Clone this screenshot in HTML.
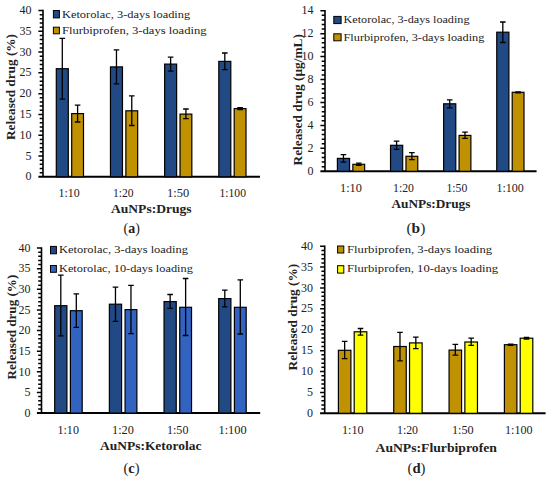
<!DOCTYPE html><html><head><meta charset="utf-8"><title>Released drug charts</title><style>html,body{margin:0;padding:0;background:#fff;overflow:hidden;}svg{display:block;}</style></head><body>
<svg width="550" height="477" viewBox="0 0 550 477" font-family='"Liberation Serif", serif'>
<rect width="550" height="477" fill="#fff"/>
<path d="M43.00 9.80V176.80" stroke="#000" stroke-width="1.6" fill="none"/>
<path d="M38.40 176.80H260.00" stroke="#000" stroke-width="2" fill="none"/>
<path d="M39.70 172.64H43.00M39.70 168.49H43.00M39.70 164.33H43.00M39.70 160.17H43.00M38.40 156.01H43.00M39.70 151.86H43.00M39.70 147.70H43.00M39.70 143.54H43.00M39.70 139.38H43.00M38.40 135.23H43.00M39.70 131.07H43.00M39.70 126.91H43.00M39.70 122.75H43.00M39.70 118.59H43.00M38.40 114.44H43.00M39.70 110.28H43.00M39.70 106.12H43.00M39.70 101.97H43.00M39.70 97.81H43.00M38.40 93.65H43.00M39.70 89.49H43.00M39.70 85.34H43.00M39.70 81.18H43.00M39.70 77.02H43.00M38.40 72.86H43.00M39.70 68.71H43.00M39.70 64.55H43.00M39.70 60.39H43.00M39.70 56.23H43.00M38.40 52.08H43.00M39.70 47.92H43.00M39.70 43.76H43.00M39.70 39.60H43.00M39.70 35.44H43.00M38.40 31.29H43.00M39.70 27.13H43.00M39.70 22.97H43.00M39.70 18.81H43.00M39.70 14.66H43.00M38.40 10.50H43.00" stroke="#000" stroke-width="1.5" fill="none"/>
<rect x="56.30" y="68.70" width="12.00" height="108.10" fill="#214984" stroke="#000" stroke-width="1.2"/>
<rect x="71.70" y="113.60" width="11.80" height="63.20" fill="#C09100" stroke="#000" stroke-width="1.2"/>
<rect x="110.47" y="66.90" width="12.00" height="109.90" fill="#214984" stroke="#000" stroke-width="1.2"/>
<rect x="125.87" y="110.80" width="11.80" height="66.00" fill="#C09100" stroke="#000" stroke-width="1.2"/>
<rect x="164.63" y="64.10" width="12.00" height="112.70" fill="#214984" stroke="#000" stroke-width="1.2"/>
<rect x="180.03" y="114.10" width="11.80" height="62.70" fill="#C09100" stroke="#000" stroke-width="1.2"/>
<rect x="218.80" y="61.40" width="12.00" height="115.40" fill="#214984" stroke="#000" stroke-width="1.2"/>
<rect x="234.20" y="108.60" width="11.80" height="68.20" fill="#C09100" stroke="#000" stroke-width="1.2"/>
<path d="M62.30 38.30V99.10M59.50 38.30H65.10M59.50 99.10H65.10" stroke="#000" stroke-width="1.3" fill="none"/>
<path d="M77.60 105.20V122.00M74.80 105.20H80.40M74.80 122.00H80.40" stroke="#000" stroke-width="1.3" fill="none"/>
<path d="M116.47 49.90V83.90M113.67 49.90H119.27M113.67 83.90H119.27" stroke="#000" stroke-width="1.3" fill="none"/>
<path d="M131.77 95.90V125.50M128.97 95.90H134.57M128.97 125.50H134.57" stroke="#000" stroke-width="1.3" fill="none"/>
<path d="M170.63 57.20V71.10M167.83 57.20H173.43M167.83 71.10H173.43" stroke="#000" stroke-width="1.3" fill="none"/>
<path d="M185.93 109.00V118.60M183.13 109.00H188.73M183.13 118.60H188.73" stroke="#000" stroke-width="1.3" fill="none"/>
<path d="M224.80 53.00V69.70M222.00 53.00H227.60M222.00 69.70H227.60" stroke="#000" stroke-width="1.3" fill="none"/>
<path d="M240.10 107.70V109.50M237.30 107.70H242.90M237.30 109.50H242.90" stroke="#000" stroke-width="1.3" fill="none"/>
<rect x="53.40" y="10.50" width="6.00" height="7.40" fill="#214984" stroke="#000" stroke-width="1.0"/>
<rect x="53.40" y="27.20" width="6.00" height="6.60" fill="#C09100" stroke="#000" stroke-width="1.0"/>
<path d="M325.00 10.00V171.30" stroke="#000" stroke-width="1.6" fill="none"/>
<path d="M320.40 171.30H536.60" stroke="#000" stroke-width="2" fill="none"/>
<path d="M321.70 166.71H325.00M321.70 162.12H325.00M321.70 157.53H325.00M321.70 152.95H325.00M320.40 148.36H325.00M321.70 143.77H325.00M321.70 139.18H325.00M321.70 134.59H325.00M321.70 130.00H325.00M320.40 125.41H325.00M321.70 120.83H325.00M321.70 116.24H325.00M321.70 111.65H325.00M321.70 107.06H325.00M320.40 102.47H325.00M321.70 97.88H325.00M321.70 93.29H325.00M321.70 88.71H325.00M321.70 84.12H325.00M320.40 79.53H325.00M321.70 74.94H325.00M321.70 70.35H325.00M321.70 65.76H325.00M321.70 61.17H325.00M320.40 56.59H325.00M321.70 52.00H325.00M321.70 47.41H325.00M321.70 42.82H325.00M321.70 38.23H325.00M320.40 33.64H325.00M321.70 29.05H325.00M321.70 24.47H325.00M321.70 19.88H325.00M321.70 15.29H325.00M320.40 10.70H325.00" stroke="#000" stroke-width="1.5" fill="none"/>
<rect x="337.40" y="158.40" width="12.15" height="12.90" fill="#214984" stroke="#000" stroke-width="1.2"/>
<rect x="352.85" y="164.30" width="11.80" height="7.00" fill="#C09100" stroke="#000" stroke-width="1.2"/>
<rect x="390.52" y="145.30" width="12.15" height="26.00" fill="#214984" stroke="#000" stroke-width="1.2"/>
<rect x="405.97" y="156.30" width="11.80" height="15.00" fill="#C09100" stroke="#000" stroke-width="1.2"/>
<rect x="443.63" y="103.80" width="12.15" height="67.50" fill="#214984" stroke="#000" stroke-width="1.2"/>
<rect x="459.08" y="135.40" width="11.80" height="35.90" fill="#C09100" stroke="#000" stroke-width="1.2"/>
<rect x="496.75" y="32.20" width="12.15" height="139.10" fill="#214984" stroke="#000" stroke-width="1.2"/>
<rect x="512.20" y="92.30" width="11.80" height="79.00" fill="#C09100" stroke="#000" stroke-width="1.2"/>
<path d="M343.47 154.60V162.10M340.67 154.60H346.27M340.67 162.10H346.27" stroke="#000" stroke-width="1.3" fill="none"/>
<path d="M358.75 163.20V165.30M355.95 163.20H361.55M355.95 165.30H361.55" stroke="#000" stroke-width="1.3" fill="none"/>
<path d="M396.59 141.20V149.30M393.79 141.20H399.39M393.79 149.30H399.39" stroke="#000" stroke-width="1.3" fill="none"/>
<path d="M411.87 152.70V159.70M409.07 152.70H414.67M409.07 159.70H414.67" stroke="#000" stroke-width="1.3" fill="none"/>
<path d="M449.71 99.80V107.90M446.91 99.80H452.51M446.91 107.90H452.51" stroke="#000" stroke-width="1.3" fill="none"/>
<path d="M464.98 132.10V138.40M462.18 132.10H467.78M462.18 138.40H467.78" stroke="#000" stroke-width="1.3" fill="none"/>
<path d="M502.82 22.00V42.50M500.02 22.00H505.62M500.02 42.50H505.62" stroke="#000" stroke-width="1.3" fill="none"/>
<path d="M518.10 91.80V92.80M515.30 91.80H520.90M515.30 92.80H520.90" stroke="#000" stroke-width="1.3" fill="none"/>
<rect x="333.80" y="16.40" width="7.30" height="7.20" fill="#214984" stroke="#000" stroke-width="1.0"/>
<rect x="333.80" y="33.80" width="7.30" height="7.00" fill="#C09100" stroke="#000" stroke-width="1.0"/>
<path d="M41.50 247.30V413.10" stroke="#000" stroke-width="1.6" fill="none"/>
<path d="M36.90 413.10H260.20" stroke="#000" stroke-width="2" fill="none"/>
<path d="M38.20 408.97H41.50M38.20 404.85H41.50M38.20 400.72H41.50M38.20 396.59H41.50M36.90 392.46H41.50M38.20 388.34H41.50M38.20 384.21H41.50M38.20 380.08H41.50M38.20 375.95H41.50M36.90 371.83H41.50M38.20 367.70H41.50M38.20 363.57H41.50M38.20 359.44H41.50M38.20 355.31H41.50M36.90 351.19H41.50M38.20 347.06H41.50M38.20 342.93H41.50M38.20 338.81H41.50M38.20 334.68H41.50M36.90 330.55H41.50M38.20 326.42H41.50M38.20 322.30H41.50M38.20 318.17H41.50M38.20 314.04H41.50M36.90 309.91H41.50M38.20 305.79H41.50M38.20 301.66H41.50M38.20 297.53H41.50M38.20 293.40H41.50M36.90 289.27H41.50M38.20 285.15H41.50M38.20 281.02H41.50M38.20 276.89H41.50M38.20 272.76H41.50M36.90 268.64H41.50M38.20 264.51H41.50M38.20 260.38H41.50M38.20 256.25H41.50M38.20 252.13H41.50M36.90 248.00H41.50" stroke="#000" stroke-width="1.5" fill="none"/>
<rect x="54.70" y="305.70" width="12.20" height="107.40" fill="#214984" stroke="#000" stroke-width="1.2"/>
<rect x="70.40" y="310.70" width="11.80" height="102.40" fill="#3363C0" stroke="#000" stroke-width="1.2"/>
<rect x="109.37" y="304.20" width="12.20" height="108.90" fill="#214984" stroke="#000" stroke-width="1.2"/>
<rect x="125.07" y="309.60" width="11.80" height="103.50" fill="#3363C0" stroke="#000" stroke-width="1.2"/>
<rect x="164.03" y="301.60" width="12.20" height="111.50" fill="#214984" stroke="#000" stroke-width="1.2"/>
<rect x="179.73" y="307.30" width="11.80" height="105.80" fill="#3363C0" stroke="#000" stroke-width="1.2"/>
<rect x="218.70" y="298.60" width="12.20" height="114.50" fill="#214984" stroke="#000" stroke-width="1.2"/>
<rect x="234.40" y="307.30" width="11.80" height="105.80" fill="#3363C0" stroke="#000" stroke-width="1.2"/>
<path d="M60.80 275.10V335.90M58.00 275.10H63.60M58.00 335.90H63.60" stroke="#000" stroke-width="1.3" fill="none"/>
<path d="M76.30 293.80V327.40M73.50 293.80H79.10M73.50 327.40H79.10" stroke="#000" stroke-width="1.3" fill="none"/>
<path d="M115.47 287.20V321.30M112.67 287.20H118.27M112.67 321.30H118.27" stroke="#000" stroke-width="1.3" fill="none"/>
<path d="M130.97 285.40V333.60M128.17 285.40H133.77M128.17 333.60H133.77" stroke="#000" stroke-width="1.3" fill="none"/>
<path d="M170.13 294.50V308.30M167.33 294.50H172.93M167.33 308.30H172.93" stroke="#000" stroke-width="1.3" fill="none"/>
<path d="M185.63 278.50V335.50M182.83 278.50H188.43M182.83 335.50H188.43" stroke="#000" stroke-width="1.3" fill="none"/>
<path d="M224.80 290.10V306.90M222.00 290.10H227.60M222.00 306.90H227.60" stroke="#000" stroke-width="1.3" fill="none"/>
<path d="M240.30 279.80V334.00M237.50 279.80H243.10M237.50 334.00H243.10" stroke="#000" stroke-width="1.3" fill="none"/>
<rect x="50.50" y="246.40" width="5.90" height="7.40" fill="#214984" stroke="#000" stroke-width="1.0"/>
<rect x="50.50" y="265.50" width="5.90" height="6.80" fill="#3363C0" stroke="#000" stroke-width="1.0"/>
<path d="M324.70 245.50V413.30" stroke="#000" stroke-width="1.6" fill="none"/>
<path d="M320.10 413.30H545.60" stroke="#000" stroke-width="2" fill="none"/>
<path d="M321.40 409.12H324.70M321.40 404.94H324.70M321.40 400.77H324.70M321.40 396.59H324.70M320.10 392.41H324.70M321.40 388.24H324.70M321.40 384.06H324.70M321.40 379.88H324.70M321.40 375.70H324.70M320.10 371.52H324.70M321.40 367.35H324.70M321.40 363.17H324.70M321.40 358.99H324.70M321.40 354.81H324.70M320.10 350.64H324.70M321.40 346.46H324.70M321.40 342.28H324.70M321.40 338.11H324.70M321.40 333.93H324.70M320.10 329.75H324.70M321.40 325.57H324.70M321.40 321.39H324.70M321.40 317.22H324.70M321.40 313.04H324.70M320.10 308.86H324.70M321.40 304.69H324.70M321.40 300.51H324.70M321.40 296.33H324.70M321.40 292.15H324.70M320.10 287.98H324.70M321.40 283.80H324.70M321.40 279.62H324.70M321.40 275.44H324.70M321.40 271.26H324.70M320.10 267.09H324.70M321.40 262.91H324.70M321.40 258.73H324.70M321.40 254.55H324.70M321.40 250.38H324.70M320.10 246.20H324.70" stroke="#000" stroke-width="1.5" fill="none"/>
<rect x="338.40" y="350.30" width="12.50" height="63.00" fill="#C09100" stroke="#000" stroke-width="1.2"/>
<rect x="354.20" y="331.80" width="12.60" height="81.50" fill="#FFFF00" stroke="#000" stroke-width="1.2"/>
<rect x="393.73" y="346.50" width="12.50" height="66.80" fill="#C09100" stroke="#000" stroke-width="1.2"/>
<rect x="409.53" y="342.90" width="12.60" height="70.40" fill="#FFFF00" stroke="#000" stroke-width="1.2"/>
<rect x="449.07" y="350.10" width="12.50" height="63.20" fill="#C09100" stroke="#000" stroke-width="1.2"/>
<rect x="464.87" y="342.00" width="12.60" height="71.30" fill="#FFFF00" stroke="#000" stroke-width="1.2"/>
<rect x="504.40" y="344.70" width="12.50" height="68.60" fill="#C09100" stroke="#000" stroke-width="1.2"/>
<rect x="520.20" y="338.20" width="12.60" height="75.10" fill="#FFFF00" stroke="#000" stroke-width="1.2"/>
<path d="M344.65 341.30V358.60M341.85 341.30H347.45M341.85 358.60H347.45" stroke="#000" stroke-width="1.3" fill="none"/>
<path d="M360.50 328.50V335.10M357.70 328.50H363.30M357.70 335.10H363.30" stroke="#000" stroke-width="1.3" fill="none"/>
<path d="M399.98 332.30V360.80M397.18 332.30H402.78M397.18 360.80H402.78" stroke="#000" stroke-width="1.3" fill="none"/>
<path d="M415.83 337.20V348.60M413.03 337.20H418.63M413.03 348.60H418.63" stroke="#000" stroke-width="1.3" fill="none"/>
<path d="M455.32 344.40V355.10M452.52 344.40H458.12M452.52 355.10H458.12" stroke="#000" stroke-width="1.3" fill="none"/>
<path d="M471.17 338.20V345.40M468.37 338.20H473.97M468.37 345.40H473.97" stroke="#000" stroke-width="1.3" fill="none"/>
<path d="M510.65 344.10V345.30M507.85 344.10H513.45M507.85 345.30H513.45" stroke="#000" stroke-width="1.3" fill="none"/>
<path d="M526.50 337.40V339.00M523.70 337.40H529.30M523.70 339.00H529.30" stroke="#000" stroke-width="1.3" fill="none"/>
<rect x="337.60" y="246.00" width="6.20" height="7.00" fill="#C09100" stroke="#000" stroke-width="1.0"/>
<rect x="337.60" y="265.70" width="6.20" height="7.40" fill="#FFFF00" stroke="#000" stroke-width="1.0"/>
<text x="31.60" y="180.30" font-size="12" text-anchor="end" fill="#222">0</text>
<text x="31.60" y="159.51" font-size="12" text-anchor="end" fill="#222">5</text>
<text x="31.60" y="138.73" font-size="12" text-anchor="end" fill="#222">10</text>
<text x="31.60" y="117.94" font-size="12" text-anchor="end" fill="#222">15</text>
<text x="31.60" y="97.15" font-size="12" text-anchor="end" fill="#222">20</text>
<text x="31.60" y="76.36" font-size="12" text-anchor="end" fill="#222">25</text>
<text x="31.60" y="55.58" font-size="12" text-anchor="end" fill="#222">30</text>
<text x="31.60" y="34.79" font-size="12" text-anchor="end" fill="#222">35</text>
<text x="31.60" y="14.00" font-size="12" text-anchor="end" fill="#222">40</text>
<text x="313.50" y="174.80" font-size="12" text-anchor="end" fill="#222">0</text>
<text x="313.50" y="151.86" font-size="12" text-anchor="end" fill="#222">2</text>
<text x="313.50" y="128.91" font-size="12" text-anchor="end" fill="#222">4</text>
<text x="313.50" y="105.97" font-size="12" text-anchor="end" fill="#222">6</text>
<text x="313.50" y="83.03" font-size="12" text-anchor="end" fill="#222">8</text>
<text x="313.50" y="60.09" font-size="12" text-anchor="end" fill="#222">10</text>
<text x="313.50" y="37.14" font-size="12" text-anchor="end" fill="#222">12</text>
<text x="313.50" y="14.20" font-size="12" text-anchor="end" fill="#222">14</text>
<text x="30.40" y="416.90" font-size="12" text-anchor="end" fill="#222">0</text>
<text x="30.40" y="396.26" font-size="12" text-anchor="end" fill="#222">5</text>
<text x="30.40" y="375.63" font-size="12" text-anchor="end" fill="#222">10</text>
<text x="30.40" y="354.99" font-size="12" text-anchor="end" fill="#222">15</text>
<text x="30.40" y="334.35" font-size="12" text-anchor="end" fill="#222">20</text>
<text x="30.40" y="313.71" font-size="12" text-anchor="end" fill="#222">25</text>
<text x="30.40" y="293.07" font-size="12" text-anchor="end" fill="#222">30</text>
<text x="30.40" y="272.44" font-size="12" text-anchor="end" fill="#222">35</text>
<text x="30.40" y="251.80" font-size="12" text-anchor="end" fill="#222">40</text>
<text x="313.00" y="416.90" font-size="12" text-anchor="end" fill="#222">0</text>
<text x="313.00" y="396.01" font-size="12" text-anchor="end" fill="#222">5</text>
<text x="313.00" y="375.12" font-size="12" text-anchor="end" fill="#222">10</text>
<text x="313.00" y="354.24" font-size="12" text-anchor="end" fill="#222">15</text>
<text x="313.00" y="333.35" font-size="12" text-anchor="end" fill="#222">20</text>
<text x="313.00" y="312.46" font-size="12" text-anchor="end" fill="#222">25</text>
<text x="313.00" y="291.58" font-size="12" text-anchor="end" fill="#222">30</text>
<text x="313.00" y="270.69" font-size="12" text-anchor="end" fill="#222">35</text>
<text x="313.00" y="249.80" font-size="12" text-anchor="end" fill="#222">40</text>
<text x="62.00" y="17.50" font-size="11.2" font-weight="normal" fill="#222" textLength="128.19" lengthAdjust="spacingAndGlyphs">Ketorolac, 3-days loading</text>
<text x="62.00" y="34.00" font-size="11.2" font-weight="normal" fill="#222" textLength="144.58" lengthAdjust="spacingAndGlyphs">Flurbiprofen, 3-days loading</text>
<text x="58.50" y="197.00" font-size="11.8" font-weight="normal" fill="#222" textLength="21.22" lengthAdjust="spacingAndGlyphs">1:10</text>
<text x="113.00" y="197.00" font-size="11.8" font-weight="normal" fill="#222" textLength="20.60" lengthAdjust="spacingAndGlyphs">1:20</text>
<text x="167.00" y="197.00" font-size="11.8" font-weight="normal" fill="#222" textLength="22.15" lengthAdjust="spacingAndGlyphs">1:50</text>
<text x="219.50" y="197.00" font-size="11.8" font-weight="normal" fill="#222" textLength="26.46" lengthAdjust="spacingAndGlyphs">1:100</text>
<text x="111.00" y="213.00" font-size="12.8" font-weight="bold" fill="#222" textLength="80.55" lengthAdjust="spacingAndGlyphs">AuNPs:Drugs</text>
<text x="123.50" y="233.00" font-size="14.5" fill="#222" textLength="16.31" lengthAdjust="spacingAndGlyphs">(<tspan font-weight="bold">a</tspan>)</text>
<text x="14.70" y="140.00" font-size="13" font-weight="bold" fill="#222" textLength="106.03" lengthAdjust="spacingAndGlyphs" transform="rotate(-90 14.70 140.00)">Released drug (%)</text>
<text x="343.50" y="23.00" font-size="10.7" font-weight="normal" fill="#222" textLength="126.00" lengthAdjust="spacingAndGlyphs">Ketorolac, 3-days loading</text>
<text x="343.50" y="40.50" font-size="10.7" font-weight="normal" fill="#222" textLength="140.89" lengthAdjust="spacingAndGlyphs">Flurbiprofen, 3-days loading</text>
<text x="340.00" y="192.00" font-size="11.8" font-weight="normal" fill="#222" textLength="21.88" lengthAdjust="spacingAndGlyphs">1:10</text>
<text x="393.00" y="192.00" font-size="11.8" font-weight="normal" fill="#222" textLength="20.96" lengthAdjust="spacingAndGlyphs">1:20</text>
<text x="446.50" y="192.00" font-size="11.8" font-weight="normal" fill="#222" textLength="20.79" lengthAdjust="spacingAndGlyphs">1:50</text>
<text x="496.50" y="192.00" font-size="11.8" font-weight="normal" fill="#222" textLength="27.31" lengthAdjust="spacingAndGlyphs">1:100</text>
<text x="391.50" y="208.00" font-size="12.8" font-weight="bold" fill="#222" textLength="78.89" lengthAdjust="spacingAndGlyphs">AuNPs:Drugs</text>
<text x="406.50" y="233.00" font-size="14.5" fill="#222" textLength="18.84" lengthAdjust="spacingAndGlyphs">(<tspan font-weight="bold">b</tspan>)</text>
<text x="301.50" y="165.50" font-size="13" font-weight="bold" fill="#222" textLength="131.40" lengthAdjust="spacingAndGlyphs" transform="rotate(-90 301.50 165.50)">Released drug (μg/mL)</text>
<text x="59.00" y="253.30" font-size="11.2" font-weight="normal" fill="#222" textLength="129.00" lengthAdjust="spacingAndGlyphs">Ketorolac, 3-days loading</text>
<text x="59.00" y="271.80" font-size="11.2" font-weight="normal" fill="#222" textLength="133.84" lengthAdjust="spacingAndGlyphs">Ketorolac, 10-days loading</text>
<text x="57.50" y="434.00" font-size="11.8" font-weight="normal" fill="#222" textLength="21.43" lengthAdjust="spacingAndGlyphs">1:10</text>
<text x="112.00" y="434.00" font-size="11.8" font-weight="normal" fill="#222" textLength="21.88" lengthAdjust="spacingAndGlyphs">1:20</text>
<text x="167.00" y="434.00" font-size="11.8" font-weight="normal" fill="#222" textLength="21.43" lengthAdjust="spacingAndGlyphs">1:50</text>
<text x="218.50" y="434.00" font-size="11.8" font-weight="normal" fill="#222" textLength="28.18" lengthAdjust="spacingAndGlyphs">1:100</text>
<text x="100.00" y="450.00" font-size="12.8" font-weight="bold" fill="#222" textLength="101.47" lengthAdjust="spacingAndGlyphs">AuNPs:Ketorolac</text>
<text x="123.50" y="473.00" font-size="14.5" fill="#222" textLength="16.12" lengthAdjust="spacingAndGlyphs">(<tspan font-weight="bold">c</tspan>)</text>
<text x="15.80" y="379.50" font-size="13" font-weight="bold" fill="#222" textLength="104.81" lengthAdjust="spacingAndGlyphs" transform="rotate(-90 15.80 379.50)">Released drug (%)</text>
<text x="347.00" y="252.60" font-size="11.2" font-weight="normal" fill="#222" textLength="145.17" lengthAdjust="spacingAndGlyphs">Flurbiprofen, 3-days loading</text>
<text x="347.00" y="272.30" font-size="11.2" font-weight="normal" fill="#222" textLength="151.12" lengthAdjust="spacingAndGlyphs">Flurbiprofen, 10-days loading</text>
<text x="342.00" y="434.00" font-size="11.8" font-weight="normal" fill="#222" textLength="21.67" lengthAdjust="spacingAndGlyphs">1:10</text>
<text x="397.00" y="434.00" font-size="11.8" font-weight="normal" fill="#222" textLength="21.04" lengthAdjust="spacingAndGlyphs">1:20</text>
<text x="452.00" y="434.00" font-size="11.8" font-weight="normal" fill="#222" textLength="21.67" lengthAdjust="spacingAndGlyphs">1:50</text>
<text x="505.00" y="434.00" font-size="11.8" font-weight="normal" fill="#222" textLength="27.54" lengthAdjust="spacingAndGlyphs">1:100</text>
<text x="375.50" y="452.00" font-size="12.8" font-weight="bold" fill="#222" textLength="121.38" lengthAdjust="spacingAndGlyphs">AuNPs:Flurbiprofen</text>
<text x="407.50" y="473.00" font-size="14.5" fill="#222" textLength="17.99" lengthAdjust="spacingAndGlyphs">(<tspan font-weight="bold">d</tspan>)</text>
<text x="296.50" y="370.50" font-size="13" font-weight="bold" fill="#222" textLength="106.83" lengthAdjust="spacingAndGlyphs" transform="rotate(-90 296.50 370.50)">Released drug (%)</text>
</svg></body></html>
